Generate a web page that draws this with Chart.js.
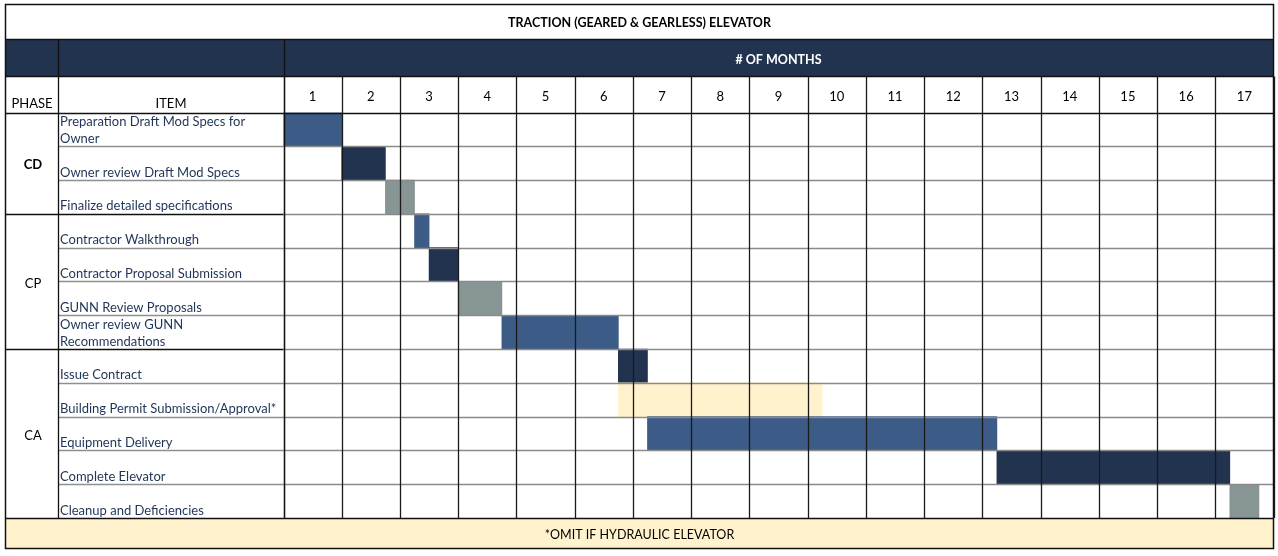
<!DOCTYPE html>
<html><head><meta charset="utf-8">
<script src="https://cdn.jsdelivr.net/npm/chart.js@4/dist/chart.umd.min.js"></script>
<style>html,body{margin:0;padding:0;background:#fff;overflow:hidden}canvas{display:block}</style>
</head><body>
<canvas id="c" width="1278" height="556"></canvas>
<script>
// ---------- DATA ----------
const chartTitle = 'TRACTION (GEARED & GEARLESS) ELEVATOR';
const monthsHeader = '# OF MONTHS';
const phaseHeader = 'PHASE';
const itemHeader = 'ITEM';
const footNote = '*OMIT IF HYDRAULIC ELEVATOR';
const monthLabels = ['1','2','3','4','5','6','7','8','9','10','11','12','13','14','15','16','17'];
const items = [
  ['Preparation Draft Mod Specs for', 'Owner'],
  'Owner review Draft Mod Specs',
  'Finalize detailed specifications',
  'Contractor Walkthrough',
  'Contractor Proposal Submission',
  'GUNN Review Proposals',
  ['Owner review GUNN', 'Recommendations'],
  'Issue Contract',
  'Building Permit Submission/Approval*',
  'Equipment Delivery',
  'Complete Elevator',
  'Cleanup and Deficiencies'
];
const phases = ['CD', 'CP', 'CA'];
const itemPhase = ['CD','CD','CD','CP','CP','CP','CP','CA','CA','CA','CA','CA'];
const startMonth = [0, 1, 1.75, 2.25, 2.5, 3, 3.75, 5.75, 5.75, 6.25, 12.25, 16.25];
const endMonth   = [1, 1.75, 2.25, 2.5, 3, 3.75, 5.75, 6.25, 9.25, 12.25, 16.25, 16.75];

// ---------- STYLE ----------
const C_BLUE = '#3c5b86', C_NAVY = '#22334f', C_GREY = '#879594', C_CREAM = '#fff2cc';
const barColors = [C_BLUE, C_NAVY, C_GREY, C_BLUE, C_NAVY, C_GREY, C_BLUE, C_NAVY, C_CREAM, C_BLUE, C_NAVY, C_GREY];
const FONT = 'Lato, "Open Sans", "Noto Sans", sans-serif';

const G = { L: 5.5, T: 4.5, titleB: 39.5, darkB: 76.5, phaseR: 58.5, footB: 548.5 };

const tablePlugin = {
  id: 'ganttTable',
  beforeDraw(chart) {
    const ctx = chart.ctx, a = chart.chartArea;
    ctx.save();
    ctx.fillStyle = '#fff';
    ctx.fillRect(0, 0, chart.width, chart.height);
    ctx.fillStyle = C_NAVY;
    ctx.fillRect(G.L, G.titleB, a.right - G.L, G.darkB - G.titleB);
    ctx.fillStyle = C_CREAM;
    ctx.fillRect(G.L, a.bottom, a.right - G.L, G.footB - a.bottom);
    ctx.restore();
  },
  afterDatasetsDraw(chart) {
    const ctx = chart.ctx, a = chart.chartArea;
    const xs = chart.scales.x;
    const n = items.length;
    const rowH = (a.bottom - a.top) / n;
    const rowTop = i => a.top + i * rowH;
    const px = v => Math.round(v) + 0.5;
    const line = (x1, y1, x2, y2, col, w) => {
      ctx.beginPath(); ctx.strokeStyle = col; ctx.lineWidth = w;
      ctx.moveTo(x1, y1); ctx.lineTo(x2, y2); ctx.stroke();
    };
    ctx.save();
    // horizontal row lines
    for (let i = 1; i < n; i++) {
      const y = px(rowTop(i));
      const boundary = itemPhase[i] !== itemPhase[i - 1];
      if (boundary) line(G.L, y, a.left, y, '#111', 1.3);
      else line(G.phaseR, y, a.left, y, '#8f8f8f', 1.3);
      line(a.left, y, a.right, y, '#8a8a8a', 1.3);
    }
    // vertical month lines
    for (let m = 0; m <= monthLabels.length; m++) {
      const x = px(xs.getPixelForValue(m));
      line(x, G.darkB, x, a.bottom, '#1a1a1a', 1.3);
    }
    // column separators
    line(G.phaseR, G.titleB, G.phaseR, a.bottom, '#111', 1.3);
    line(px(a.left), G.titleB, px(a.left), a.bottom, '#111', 1.3);
    // horizontal structural lines
    line(G.L, G.titleB, a.right, G.titleB, '#111', 1.3);
    line(G.L, G.darkB, a.right, G.darkB, '#111', 1.3);
    line(G.L, px(a.top), a.right, px(a.top), '#111', 1.3);
    line(G.L, px(a.bottom), a.right, px(a.bottom), '#111', 1.3);
    // outer border
    ctx.strokeStyle = '#111'; ctx.lineWidth = 1.5;
    ctx.strokeRect(G.L, G.T, a.right - G.L, G.footB - G.T);

    // texts
    ctx.textAlign = 'center'; ctx.textBaseline = 'middle';
    ctx.fillStyle = '#000';
    ctx.font = 'bold 12.5px ' + FONT;
    ctx.fillText(chartTitle, (G.L + a.right) / 2, 22.5);
    ctx.fillStyle = '#fff';
    ctx.fillText(monthsHeader, (a.left + a.right) / 2, 59.5);
    ctx.fillStyle = '#000';
    ctx.font = '13px ' + FONT;
    ctx.fillText(phaseHeader, (G.L + G.phaseR) / 2, 103.5);
    ctx.fillText(itemHeader, (G.phaseR + a.left) / 2, 103.5);
    monthLabels.forEach((lab, m) => {
      ctx.fillText(lab, xs.getPixelForValue(m + 0.5), 96.5);
    });
    // phase labels
    phases.forEach(p => {
      const idx = itemPhase.map((q, i) => q === p ? i : -1).filter(i => i >= 0);
      const y0 = rowTop(idx[0]), y1 = rowTop(idx[idx.length - 1] + 1);
      ctx.font = (p === 'CD' ? 'bold ' : '') + '13px ' + FONT;
      ctx.fillStyle = '#000';
      ctx.fillText(p, (G.L + G.phaseR) / 2 + 1, (y0 + y1) / 2 + 2);
    });
    // item labels
    ctx.textAlign = 'left'; ctx.textBaseline = 'alphabetic';
    ctx.font = '13px ' + FONT;
    ctx.fillStyle = '#1f3456';
    items.forEach((it, i) => {
      const lines = Array.isArray(it) ? it : [it];
      const yb = rowTop(i + 1) - 3.5;
      lines.forEach((t, k) => {
        ctx.fillText(t, G.phaseR + 1.5, yb - (lines.length - 1 - k) * 16.5);
      });
    });
    // footnote
    ctx.textAlign = 'center'; ctx.textBaseline = 'middle';
    ctx.font = '12.5px ' + FONT;
    ctx.fillStyle = '#000';
    ctx.fillText(footNote, (G.L + a.right) / 2, 535);
    ctx.restore();
  }
};

new Chart(document.getElementById('c'), {
  type: 'bar',
  data: {
    labels: items,
    datasets: [{
      data: startMonth.map((s, i) => [s, endMonth[i]]),
      backgroundColor: barColors,
      borderWidth: 0,
      barPercentage: 1,
      categoryPercentage: 1
    }]
  },
  options: {
    indexAxis: 'y',
    responsive: false,
    animation: false,
    devicePixelRatio: 1,
    layout: { padding: { left: 283.5, right: 4.5, top: 112.5, bottom: 38 } },
    plugins: { legend: { display: false }, tooltip: { enabled: false }, title: { display: false } },
    scales: {
      x: { type: 'linear', min: 0, max: monthLabels.length, display: false },
      y: { type: 'category', display: false }
    }
  },
  plugins: [tablePlugin]
});
</script>
</body></html>
